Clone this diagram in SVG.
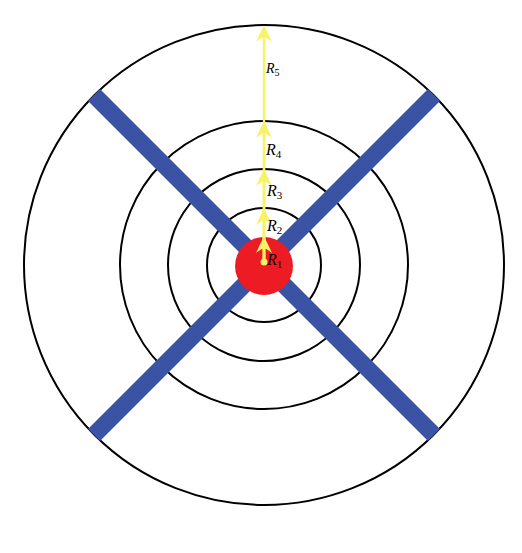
<svg xmlns="http://www.w3.org/2000/svg" width="522" height="553" viewBox="0 0 522 553">
<defs>
<style>
.ring{fill:none;stroke:#000;stroke-width:2}
.band{stroke:#3a53a4;stroke-width:17;stroke-linecap:butt}
.ray{stroke:#f8f266;stroke-width:2.4}
.lbl{font-family:"Liberation Serif",serif;font-style:italic;font-size:16px;fill:#000}
.sub{font-size:11px;font-style:normal}
</style>
<marker id="ah" markerUnits="userSpaceOnUse" viewBox="-20 -10 24 20" refX="0" refY="0" markerWidth="24" markerHeight="20" orient="auto" overflow="visible">
<path d="M1.5,0 Q-6,-4 -15,-8 Q-11,-3 -10,0 Q-11,3 -15,8 Q-6,4 1.5,0 Z" fill="#f8f266"/>
</marker>
</defs>
<g id="rings">
<circle class="ring" cx="264" cy="265" r="240"/>
<circle class="ring" cx="264" cy="265" r="144"/>
<circle class="ring" cx="264" cy="265" r="96"/>
<circle class="ring" cx="264" cy="265" r="57"/>
</g>
<g id="bands">
<line class="band" x1="94" y1="95" x2="434" y2="435"/>
<line class="band" x1="434" y1="95" x2="94" y2="435"/>
</g>
<g id="core">
<circle cx="264" cy="266" r="29" fill="#ed1c24"/>
</g>
<g id="connectors">
<line class="ray" x1="264" y1="265" x2="264" y2="238" marker-end="url(#ah)"/>
<line class="ray" x1="264" y1="265" x2="264" y2="210" marker-end="url(#ah)"/>
<line class="ray" x1="264" y1="265" x2="264" y2="171" marker-end="url(#ah)"/>
<line class="ray" x1="264" y1="265" x2="264" y2="123" marker-end="url(#ah)"/>
<line class="ray" x1="264" y1="265" x2="264" y2="27" marker-end="url(#ah)"/>
<circle cx="264" cy="262" r="3.5" fill="#f8f266"/>
</g>
<g id="labels">
<text class="lbl" x="267" y="265">R<tspan class="sub" dy="3">1</tspan></text>
<text class="lbl" x="267" y="231">R<tspan class="sub" dy="3">2</tspan></text>
<text class="lbl" x="267" y="196">R<tspan class="sub" dy="3">3</tspan></text>
<text class="lbl" x="266" y="155">R<tspan class="sub" dy="3">4</tspan></text>
<text class="lbl" x="266" y="73" style="font-size:14px">R<tspan class="sub" dy="3" style="font-size:10px">5</tspan></text>
</g>
</svg>
